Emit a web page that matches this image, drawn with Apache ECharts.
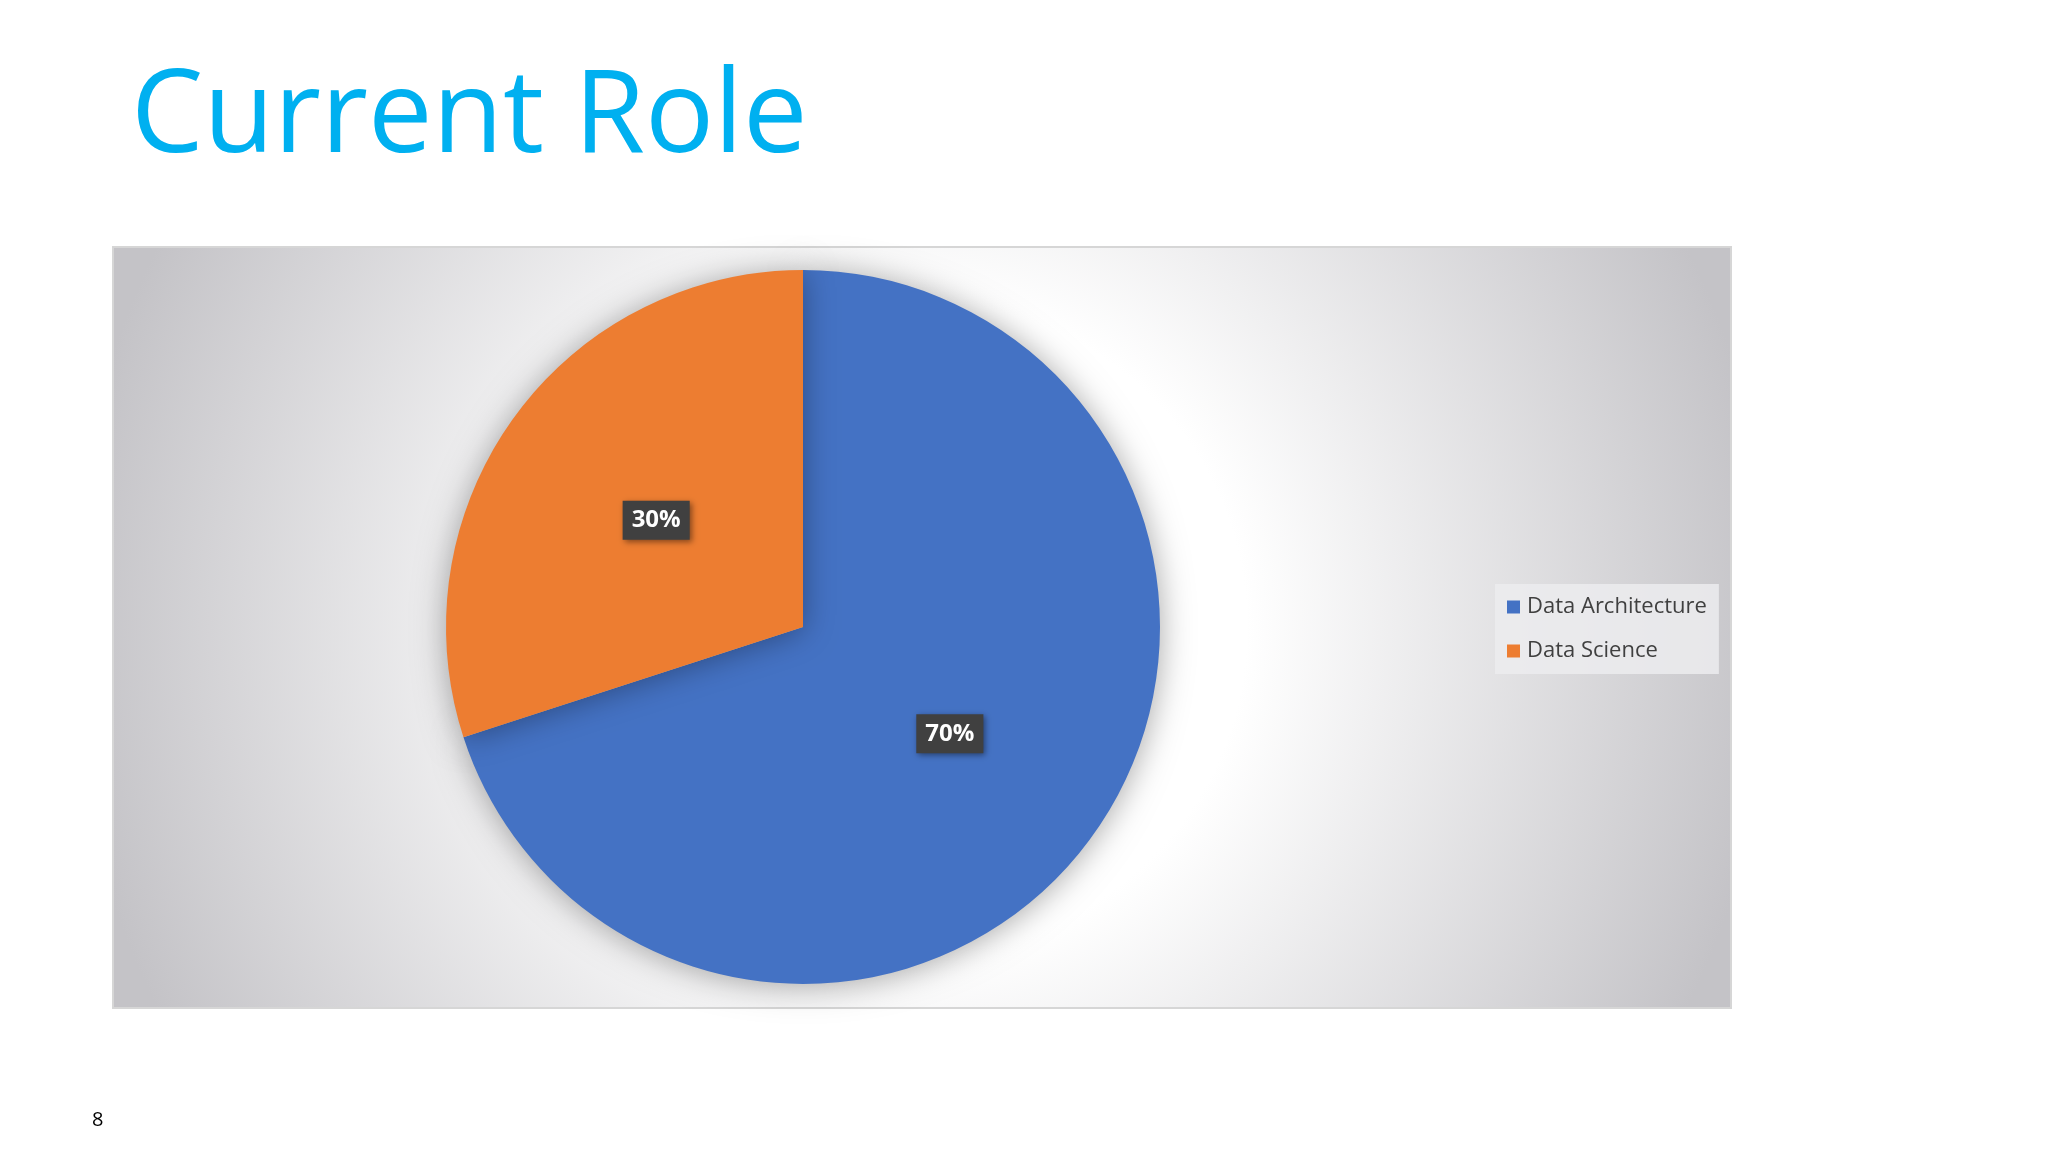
<!DOCTYPE html>
<html>
<head>
<meta charset="utf-8">
<script src="https://cdn.jsdelivr.net/npm/echarts@6/dist/echarts.min.js"></script>
<style>html,body{margin:0;padding:0;background:#fff}#c{width:2048px;height:1152px}</style>
</head>
<body>
<div id="c"></div>
<script>
const titleText = 'Current Role';
const categories = ['Data Architecture', 'Data Science'];
const values = [70, 30];
const colors = ['#4472C4', '#ED7D31'];
const pageNumber = '8';

const chart = echarts.init(document.getElementById('c'));
const box = {x: 113, y: 247, w: 1618, h: 761};
chart.setOption({
  backgroundColor: '#ffffff',
  animation: false,
  graphic: [
    {
      type: 'rect', z: -10,
      shape: {x: box.x, y: box.y, width: box.w, height: box.h},
      style: {
        fill: new echarts.graphic.RadialGradient(0.5, 0.5, 1.12, [
          {offset: 0, color: '#ffffff'},
          {offset: 0.38, color: '#ffffff'},
          {offset: 1, color: '#c4c3c7'}
        ]),
        stroke: '#d6d6d6', lineWidth: 2
      }
    },
    {
      type: 'text', left: 131, top: 62,
      style: {text: titleText, font: '115px "Comic Sans MS", "Open Sans", sans-serif', fill: '#00B0F0'}
    },
    {
      type: 'text', left: 92, top: 1110,
      style: {text: pageNumber, font: '20px "Open Sans", sans-serif', fill: '#000000'}
    }
  ],
  legend: {
    orient: 'vertical',
    left: 1495, top: 584,
    padding: [12, 12, 12, 12],
    backgroundColor: 'rgba(236,236,238,0.85)',
    itemWidth: 13, itemHeight: 13, itemGap: 22,
    icon: 'rect',
    textStyle: {fontSize: 22, color: '#404040', fontFamily: '"Open Sans", sans-serif', padding: [0, 0, 0, 2]},
    data: categories
  },
  series: [{
    type: 'pie',
    center: [803, 627],
    radius: [0, 357],
    startAngle: 90,
    clockwise: true,
    color: colors,
    itemStyle: {shadowBlur: 32, shadowColor: 'rgba(0,0,0,0.35)', shadowOffsetX: 0, shadowOffsetY: 2, borderWidth: 0},
    label: {
      show: true, position: 'inside',
      formatter: '{d}%',
      color: '#ffffff', fontSize: 24, fontWeight: 'bold',
      fontFamily: '"Open Sans", sans-serif',
      backgroundColor: '#404040',
      padding: [9, 9, 6, 9],
      shadowBlur: 6, shadowColor: 'rgba(0,0,0,0.45)', shadowOffsetX: 2, shadowOffsetY: 2
    },
    labelLine: {show: false},
    emphasis: {disabled: true},
    data: categories.map((n, i) => ({name: n, value: values[i]}))
  }]
});
</script>
</body>
</html>
